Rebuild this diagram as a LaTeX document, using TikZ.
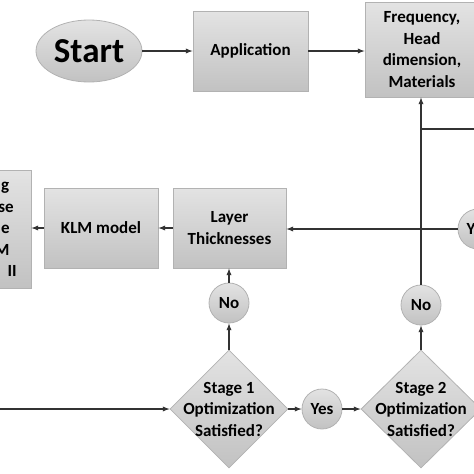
\documentclass[tikz,border=0pt]{standalone}
\usepackage{fontspec}
\setmainfont{Carlito}
\usetikzlibrary{shapes.geometric}

\begin{document}
\begin{tikzpicture}[x=1pt,y=-1pt,
every node/.style={font=\fontsize{17}{21.5}\selectfont\bfseries,align=center,inner sep=0pt},
gfill/.style={draw=black!30,line width=0.8pt,top color=black!11,bottom color=black!24},
proc/.style={gfill,rectangle,minimum width=114pt,minimum height=80pt},
term/.style={gfill,ellipse,minimum width=106pt,minimum height=62pt,font=\fontsize{35}{40}\selectfont\bfseries},
ans/.style={gfill,circle,minimum size=40pt},
dec/.style={gfill,diamond,minimum width=118pt,minimum height=118pt},
conn/.style={-latex,line width=1.3pt,draw=black!80},
wire/.style={line width=1.3pt,draw=black!80}]
\useasboundingbox (0,0) rectangle (474,474);
\clip (0,0) rectangle (474,474);
% top row
\node[term] (start) at (89,51) {Start};
\node[proc,minimum width=115pt] (app) at (250.5,51) {Application};
\node[proc,minimum height=95pt] (freq) at (422,49.5) {Frequency,\\Head\\dimension,\\Materials};
% middle row
\node[proc,minimum width=113pt] (layer) at (229.5,228) {Layer\\Thicknesses};
\node[proc] (klm) at (101,228) {KLM model};
\node[proc,minimum width=102pt,minimum height=118pt] (resp) at (-20,229) {Running\\Response\\with the\\the KLM\\in Stage\enspace II};
\node[ans] (yesb) at (478,229) {Yes};
% answers and checks
\node[ans] (no1) at (229,303) {No};
\node[ans] (no2) at (421,305) {No};
\node[ans] (yes) at (322,409) {Yes};
\node[dec] (st1) at (229,409) {};
\node at (st1) (st1t) {Stage 1\\Optimization\\Satisfied?};
\node[dec,minimum width=120pt] (st2) at (421,409) {};
\node at (st2) (st2t) {Stage 2\\Optimization\\Satisfied?};
\coordinate (in) at (-5,409);
\coordinate (back) at (480,129);
% connectors
\draw[conn] (start) -- (app);
\draw[conn] (app.east) -- (app.east -| freq.west);
\draw[conn] (layer) -- (klm);
\draw[conn] (klm.west) -- (klm.west -| resp.east);
\draw[conn] (in) -- (st1.west);
\draw[conn] (st1) -- (yes);
\draw[conn] (yes) -- (st2);
\draw[conn] (st1.north) -- (no1.south);
\draw[conn] (no1.north) -- (no1.north |- layer.south);
\draw[conn] (st2.north) -- (no2.south);
\draw[conn] (no2.north) -- (no2.north |- freq.south);
\draw[conn] (yesb.west) -- (yesb.west -| layer.east);
\draw[wire] (back) -- (back -| no2.north);
\end{tikzpicture}
\end{document}
